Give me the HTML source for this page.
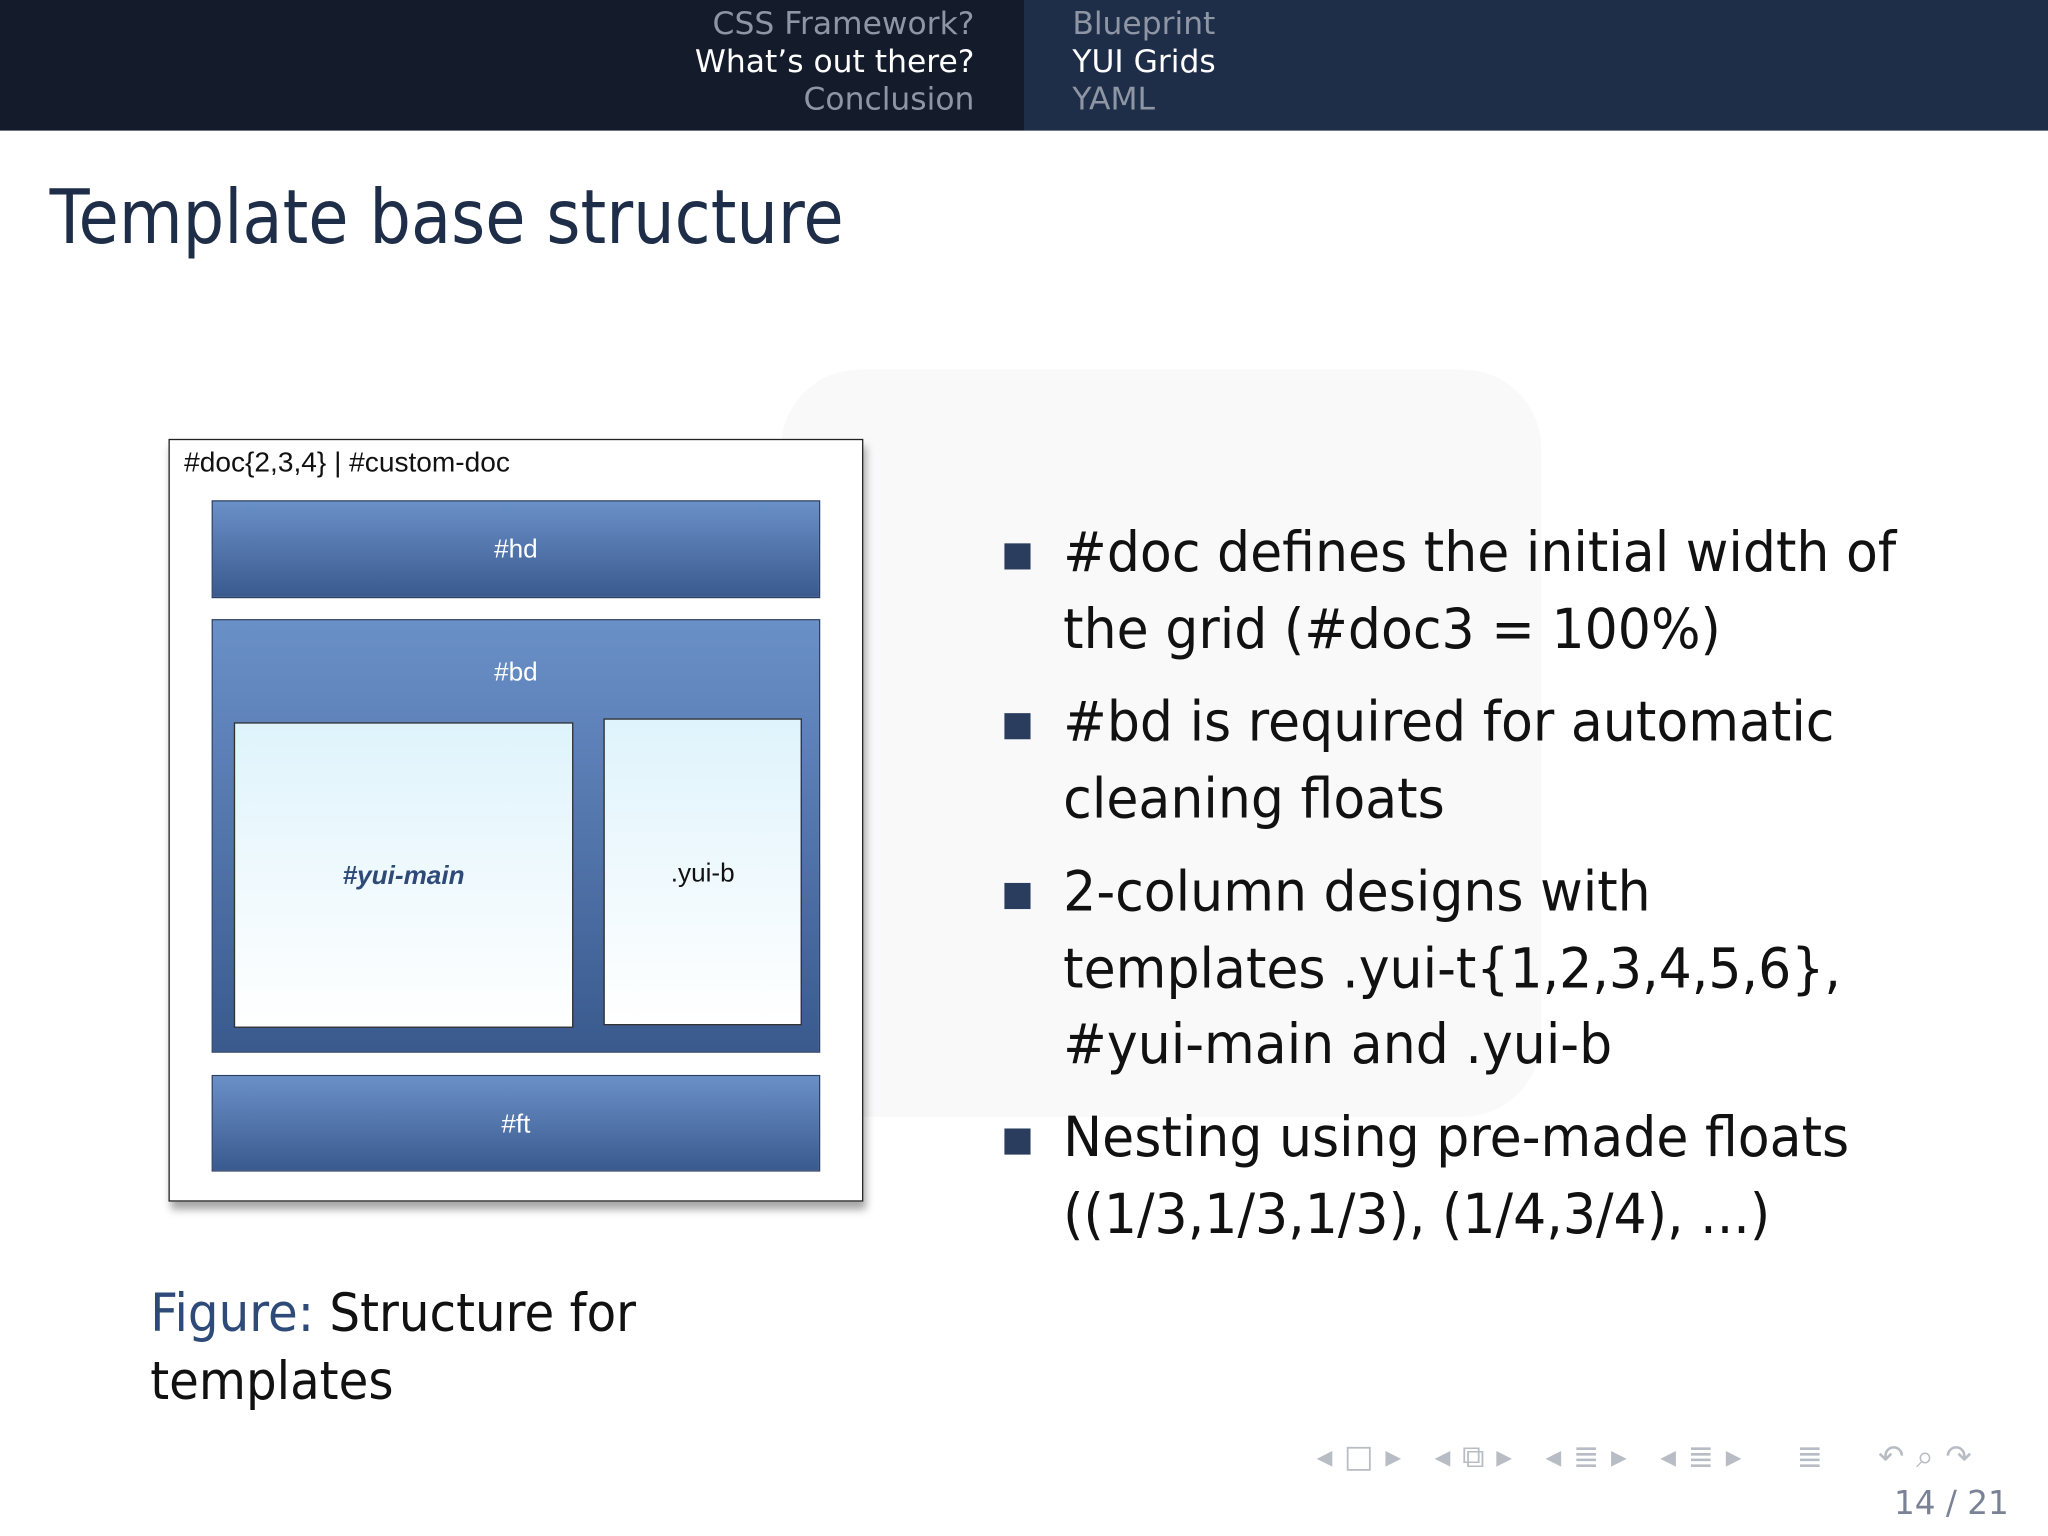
<!DOCTYPE html>
<html><head><style>
html,body{margin:0;padding:0;width:2048px;height:1536px;overflow:hidden;background:#fff}
#w{position:absolute;left:0;top:0;width:1568px;height:1176px;transform:scale(1.306122);transform-origin:0 0;font-family:"DejaVu Sans","Liberation Sans",sans-serif}
.a{position:absolute;white-space:nowrap}
.hl{position:absolute;left:0;top:0;width:784px;height:100px;background:#141c2c}
.hr{position:absolute;left:784px;top:0;width:784px;height:100px;background:#1e2d48}
.nv{font-size:24px;line-height:29px}
.bar{position:absolute;left:162px;width:466px;background:linear-gradient(#6a90c8,#3a5a8e);border:1px solid #2a3f66;box-sizing:border-box;color:#fff;font-family:"Liberation Sans",sans-serif;font-size:20px;text-align:center}
.lt{position:absolute;background:linear-gradient(#dff3fc,#fff);border:1.5px solid #333;box-sizing:border-box;font-family:"Liberation Sans",sans-serif;font-size:20px;text-align:center}
.bl{position:absolute;left:769px;width:20px;height:20px;background:#2a3d5e}
.tx{font-size:42px;color:#111;left:814px;transform:scaleX(0.95);transform-origin:0 0}
</style></head><body><div id="w">
<div class="hl"></div><div class="hr"></div>
<div class="a nv" style="right:822px;top:4px;text-align:right;color:#8e95a3">CSS Framework?<br><span style="color:#fff">What’s out there?</span><br>Conclusion</div>
<div class="a nv" style="left:821px;top:4px;color:#8e95a3">Blueprint<br><span style="color:#fff">YUI Grids</span><br>YAML</div>
<div class="a" style="left:38px;top:134px;font-size:57px;color:#1e2d48;transform:scaleX(0.88);transform-origin:0 0">Template base structure</div>
<div class="a" style="left:598px;top:283px;width:582px;height:572px;border-radius:60px;background:#f9f9fa"></div>
<div class="a" style="left:129px;top:336px;width:532px;height:584px;background:#fff;border:1.5px solid #222;box-sizing:border-box;box-shadow:2px 6px 6px rgba(0,0,0,.35)"></div>
<div class="a" style="left:141px;top:342px;font-family:'Liberation Sans',sans-serif;font-size:21.5px;color:#111">#doc{2,3,4} | #custom-doc</div>
<div class="bar" style="top:383px;height:75px;line-height:75px">#hd</div>
<div class="bar" style="top:474px;height:332px;line-height:80px">#bd</div>
<div class="lt" style="left:179px;top:553px;width:260px;height:234px;line-height:234px;font-style:italic;font-weight:bold;color:#2e4a78">#yui-main</div>
<div class="lt" style="left:462px;top:550px;width:152px;height:235px;line-height:236px;color:#111">.yui-b</div>
<div class="bar" style="top:823px;height:74px;line-height:74px">#ft</div>
<div class="bl" style="top:416px"></div><div class="bl" style="top:546px"></div><div class="bl" style="top:676px"></div><div class="bl" style="top:864px"></div>
<div class="a tx" style="top:394px;line-height:58.5px">#doc defines the initial width of<br>the grid (#doc3 = 100%)</div>
<div class="a tx" style="top:524px;line-height:58.5px">#bd is required for automatic<br>cleaning floats</div>
<div class="a tx" style="top:654px;line-height:58.5px">2-column designs with<br>templates .yui-t{1,2,3,4,5,6},<br>#yui-main and .yui-b</div>
<div class="a tx" style="top:842px;line-height:58.5px">Nesting using pre-made floats<br>((1/3,1/3,1/3), (1/4,3/4), ...)</div>
<div class="a" style="left:115px;top:980px;font-size:40px;line-height:52px;color:#111;transform:scaleX(0.925);transform-origin:0 0"><span style="color:#2e4a78">Figure:</span> Structure for<br>templates</div>
<div class="a" style="left:1008px;top:1101px;font-size:24px;color:#b8bcc4;letter-spacing:9px">◂□▸ ◂⧉▸ ◂≣▸ ◂≣▸ &nbsp;≣ &nbsp;↶⌕↷</div>
<div class="a" style="right:30px;top:1136px;font-size:25px;color:#7a8296">14 / 21</div>
</div></body></html>
